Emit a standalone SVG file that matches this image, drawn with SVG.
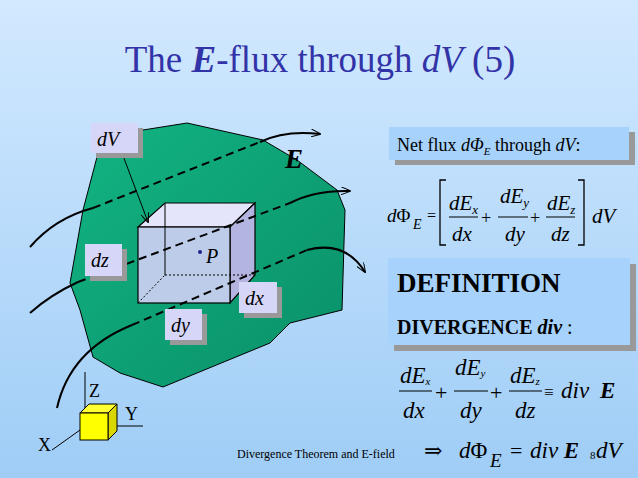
<svg xmlns="http://www.w3.org/2000/svg" width="638" height="478" viewBox="0 0 638 478">
<defs>
<linearGradient id="bg" x1="0" y1="0" x2="0" y2="1"><stop offset="0" stop-color="#d2e9ff"/><stop offset="1" stop-color="#9fcdf6"/></linearGradient>
<linearGradient id="gr" x1="0" y1="0" x2="1" y2="1"><stop offset="0" stop-color="#12b483"/><stop offset="1" stop-color="#0a8f68"/></linearGradient>
<marker id="ah" markerWidth="10" markerHeight="8" refX="9" refY="4" orient="auto" markerUnits="userSpaceOnUse"><path d="M0,0 L10,4 L0,8" fill="none" stroke="#000" stroke-width="1"/></marker>
<style>
text{font-family:"Liberation Serif","DejaVu Serif",serif}
.t{fill:#000}
.i{font-style:italic}
.lb{fill:#d6d6f8}
.sh{fill:#999}
.fl{fill:none;stroke:#000;stroke-width:2}
.ds{fill:none;stroke:#000;stroke-width:2;stroke-dasharray:8,5}
.fr{stroke:#000;stroke-width:1}
</style>
</defs>
<rect width="638" height="478" fill="url(#bg)"/>
<text x="320" y="72" text-anchor="middle" font-size="37" fill="#3333a8" font-family="Liberation Serif">The <tspan font-weight="bold" font-style="italic">E</tspan>-flux through <tspan font-style="italic">dV</tspan> (5)</text>
<g id="blob"><path d="M97,157 L143,130 L187,123 L263,140 L297,160 L337,190 L345,210 L342,310 L290,323 L270,343 L197,373 L163,387 L120,373 L93,357 L80,310 L70,283 L83,210 Z" fill="url(#gr)" stroke="#000" stroke-width="1"/></g>
<g id="cube">
<path d="M138,227 L165,203 L255,203 L230,227 Z" fill="#e4e4fb" stroke="#000" stroke-width="1.2"/>
<path d="M230,227 L255,203 L255,275 L230,303 Z" fill="#b4b4e0" stroke="#000" stroke-width="1.2"/>
<rect x="138" y="227" width="92" height="76" fill="#d0d0f5" fill-opacity="0.9" stroke="#000" stroke-width="1.2"/>
<line x1="165" y1="203" x2="165" y2="275" stroke="#000" stroke-width="1"/>
<line x1="165" y1="275" x2="255" y2="275" stroke="#000" stroke-width="1" stroke-dasharray="2,2"/>
<line x1="138" y1="303" x2="165" y2="275" stroke="#000" stroke-width="1" stroke-dasharray="2,2"/>
<circle cx="200" cy="252" r="2" fill="#22228a"/>
<text x="206" y="263" class="t i" font-size="20">P</text>
</g>
<g id="connectors">
<path class="fl" d="M30,247 Q55,218 93,208"/>
<path class="ds" d="M93,208 L260,142"/>
<path class="fl" d="M260,142 Q285,130 320,134" marker-end="url(#ah)"/>
<path class="fl" d="M30,313 Q50,295 78,282"/>
<path class="ds" d="M78,282 L290,203"/>
<path class="fl" d="M290,203 Q315,190 350,191" marker-end="url(#ah)"/>
<path class="fl" d="M57,408 Q70,350 132,325"/>
<path class="ds" d="M132,325 L307,250"/>
<path class="fl" d="M307,250 Q345,240 365,272" marker-end="url(#ah)"/>
<line x1="122" y1="153" x2="148" y2="222" stroke="#000" stroke-width="1" marker-end="url(#ah)"/>
</g>
<g id="lbl-dV"><rect x="96" y="128" width="47" height="30" class="sh"/><rect x="91" y="123" width="47" height="30" class="lb"/><text x="97" y="146" class="t i" font-size="20">dV</text></g>
<g id="lbl-dz"><rect x="90" y="249" width="37" height="32" class="sh"/><rect x="85" y="244" width="37" height="32" class="lb"/><text x="91" y="267" class="t i" font-size="20">dz</text></g>
<g id="lbl-dx"><rect x="244" y="287" width="38" height="31" class="sh"/><rect x="239" y="282" width="38" height="31" class="lb"/><text x="245" y="305" class="t i" font-size="20">dx</text></g>
<g id="lbl-dy"><rect x="170" y="314" width="37" height="31" class="sh"/><rect x="165" y="309" width="37" height="31" class="lb"/><text x="171" y="332" class="t i" font-size="20">dy</text></g>
<text x="285" y="168" class="t i" font-weight="bold" font-size="27">E</text>
<g id="axes">
<line x1="85" y1="372" x2="85" y2="413" stroke="#000"/>
<line x1="108" y1="426" x2="143" y2="426" stroke="#000"/>
<line x1="80" y1="430" x2="52" y2="450" stroke="#000"/>
<path d="M80,413 L89,404 L117,404 L108,413 Z" fill="#ffff33" stroke="#000"/>
<path d="M108,413 L117,404 L117,431 L108,440 Z" fill="#d8d800" stroke="#000"/>
<rect x="80" y="413" width="28" height="27" fill="#ffff00" stroke="#000"/>
<text x="89" y="397" class="t" font-size="18">Z</text>
<text x="125" y="420" class="t" font-size="18">Y</text>
<text x="38" y="451" class="t" font-size="18">X</text>
</g>
<g id="box-net"><rect x="395" y="132" width="240" height="33" class="sh"/><rect x="389" y="127" width="240" height="33" fill="#a6d2fb"/>
<text x="397" y="151" class="t" font-size="18">Net flux <tspan font-style="italic">dΦ</tspan><tspan font-style="italic" font-size="11" dy="4">E</tspan><tspan dy="-4"> through </tspan><tspan font-style="italic">dV</tspan>:</text></g>
<g id="eq1">
<text x="387" y="222" class="t" font-size="19"><tspan font-style="italic">d</tspan>Φ</text>
<text x="413" y="229" class="t i" font-size="14">E</text>
<text x="427" y="221" class="t" font-size="16">=</text>
<path d="M446,180 L440,180 L440,245 L446,245 M578,180 L584,180 L584,245 L578,245" fill="none" stroke="#000" stroke-width="1.3"/>
<text x="449" y="210" class="t i" font-size="21">dE<tspan font-size="13" dy="4">x</tspan></text>
<line x1="449" y1="217" x2="478" y2="217" class="fr"/>
<text x="452" y="241" class="t i" font-size="21">dx</text>
<text x="481" y="224" class="t" font-size="18">+</text>
<text x="500" y="203" class="t i" font-size="21">dE<tspan font-size="13" dy="4">y</tspan></text>
<line x1="498" y1="217" x2="528" y2="217" class="fr"/>
<text x="505" y="241" class="t i" font-size="21">dy</text>
<text x="530" y="224" class="t" font-size="18">+</text>
<text x="547" y="210" class="t i" font-size="21">dE<tspan font-size="13" dy="4">z</tspan></text>
<line x1="546" y1="217" x2="575" y2="217" class="fr"/>
<text x="551" y="241" class="t i" font-size="21">dz</text>
<text x="592" y="223" class="t i" font-size="21">dV</text>
</g>
<g id="box-def"><rect x="394" y="264" width="242" height="87" class="sh"/><rect x="388" y="258" width="242" height="87" fill="#a6d2fb"/>
<text x="397" y="292" class="t" font-weight="bold" font-size="27">DEFINITION</text>
<text x="397" y="334" class="t" font-weight="bold" font-size="20">DIVERGENCE <tspan font-style="italic">div</tspan> <tspan font-weight="normal">:</tspan></text></g>
<g id="eq2">
<text x="400" y="383" class="t i" font-size="23">dE<tspan font-size="11" dy="2">x</tspan></text>
<line x1="399" y1="391" x2="432" y2="391" class="fr"/>
<text x="403" y="418" class="t i" font-size="23">dx</text>
<text x="435" y="400" class="t" font-size="22">+</text>
<text x="455" y="375" class="t i" font-size="23">dE<tspan font-size="11" dy="2">y</tspan></text>
<line x1="454" y1="391" x2="488" y2="391" class="fr"/>
<text x="460" y="418" class="t i" font-size="23">dy</text>
<text x="490" y="400" class="t" font-size="22">+</text>
<text x="510" y="383" class="t i" font-size="23">dE<tspan font-size="11" dy="2">z</tspan></text>
<line x1="509" y1="391" x2="542" y2="391" class="fr"/>
<text x="515" y="418" class="t i" font-size="23">dz</text>
<text x="544" y="398" class="t" font-size="17">≡</text>
<text x="561" y="398" class="t i" font-size="23">div</text>
<text x="600" y="398" class="t i" font-weight="bold" font-size="23">E</text>
</g>
<text x="237" y="458" class="t" font-size="12">Divergence Theorem and E-field</text>
<g id="eq3">
<text x="424" y="458" class="t" font-size="22">⇒</text>
<text x="459" y="458" class="t" font-size="23"><tspan font-style="italic">d</tspan>Φ</text>
<text x="490" y="467" class="t i" font-size="19">E</text>
<text x="510" y="458" class="t" font-size="22">=</text>
<text x="530" y="458" class="t i" font-size="23">div <tspan font-weight="bold">E</tspan></text>
<text x="590" y="459" class="t" font-size="11">8</text>
<text x="596" y="458" class="t i" font-size="23">dV</text>
</g>
</svg>
